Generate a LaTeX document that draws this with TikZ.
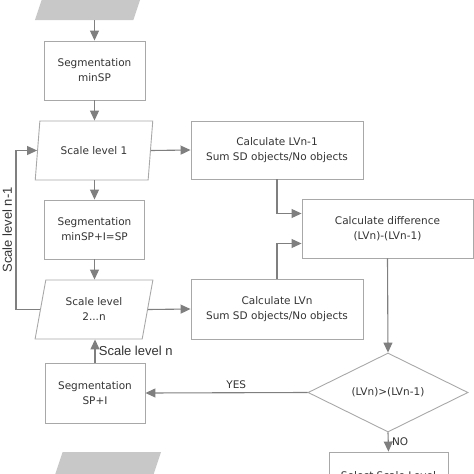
\documentclass[tikz,border=0pt]{standalone}
\usepackage{fontspec}
\setmainfont{DejaVu Sans}
\newfontfamily\lblfont{Liberation Sans}
\usetikzlibrary{shapes.geometric,arrows.meta}

\definecolor{linegray}{HTML}{7F7F7F}
\definecolor{boxgray}{HTML}{A8A8A8}
\definecolor{startgray}{HTML}{C8C8C8}
\definecolor{txtgray}{HTML}{333333}

\begin{document}
\begin{tikzpicture}[x=1pt,y=-1pt,
	font=\fontsize{10.5}{15}\selectfont, text=txtgray,
	>={Triangle[length=10pt,width=9pt]},
	conn/.style={draw=linegray,line width=1.1pt},
	box/.style={draw=boxgray,line width=0.9pt,rectangle,align=center,inner sep=2pt,minimum height=59pt},
	slant/.style={draw=boxgray,line width=0.9pt,trapezium,trapezium left angle=76,trapezium right angle=104,
		trapezium stretches=true,minimum width=118pt,minimum height=59pt,align=center,inner sep=2pt},
	lbl/.style={font=\lblfont\fontsize{13}{15}\selectfont}]
	 \useasboundingbox (0,0) rectangle (474,474);%page size
	 \clip (0,0) rectangle (474,474);

	% left column
	\node[slant,draw=none,fill=startgray] (start) at (94,-9.5) {};
	\node[box,minimum width=101pt] (segA) at (94.5,70.5) {Segmentation\\minSP};
	\node[slant] (scaleA) at (94,150.5) {Scale level 1};
	\node[box,minimum width=100pt] (segB) at (94.5,229.5) {Segmentation\\minSP+I=SP};
	\node[slant] (scaleB) at (94,309.5) {Scale level\\2...n};
	\node[box,minimum width=100pt,minimum height=60pt] (segC) at (95,393) {Segmentation\\SP+I};
	\node[slant,draw=none,fill=startgray] (stop) at (102,481.5) {};

	% right part
	\node[box,minimum width=172pt,minimum height=58pt] (calcA) at (277,150) {Calculate LVn-1\\Sum SD objects/No objects};
	\node[box,minimum width=172pt,minimum height=60pt] (calcB) at (277,309) {Calculate LVn\\Sum SD objects/No objects};
	\node[box,minimum width=171pt] (diff) at (387.5,228.5) {Calculate difference\\(LVn)-(LVn-1)};
	\node[draw=boxgray,line width=0.9pt,diamond,aspect=2,minimum width=160pt,minimum height=79pt,inner sep=2pt] (test) at (388,392.5) {(LVn)>(LVn-1)};
	\node[box,minimum width=119pt,minimum height=48pt] (select) at (388.5,476) {Select Scale Level};

	\draw[conn,->] (start.south -| segA) -- (segA.north);
	\draw[conn,->] (segA.south) -- (segA.south |- scaleA.north);
	\draw[conn,->] (scaleA.south -| segB) -- (segB.north);
	\draw[conn,->] (segB.south) -- (segB.south |- scaleB.north);
	\draw[conn,->] (segC.north) -- (segC.north |- scaleB.south) node[midway,right,lbl] {Scale level n};
	\draw[conn,->] (scaleB.west) -- ++(-24,0) |- (scaleA.west) node[pos=0.25,above,sloped,lbl] {Scale level n-1};

	\draw[conn,->] (scaleA.east) -- (calcA.west);
	\draw[conn,->] (scaleB.east) -- (calcB.west);
	\draw[conn,->] (calcA.south) |- ([yshift=15pt]diff.west);
	\draw[conn,->] (calcB.north) |- ([yshift=-15pt]diff.west);
	\draw[conn,->] (diff.south) -- (test.north);
	\draw[conn,->] (test.west) -- (segC.east) node[pos=0.44,above] {YES};
	\draw[conn,->] (test.south) -- (select.north) node[midway,right] {NO};
\end{tikzpicture}
\end{document}
